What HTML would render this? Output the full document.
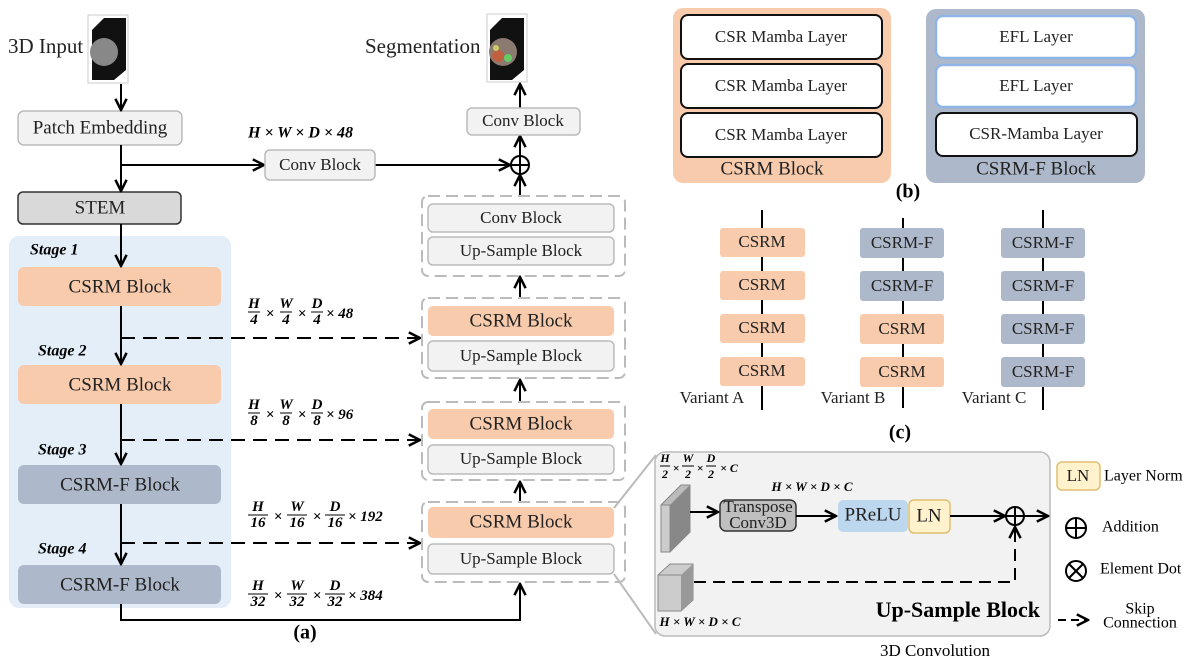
<!DOCTYPE html>
<html><head><meta charset="utf-8"><style>
html,body{margin:0;padding:0;background:#fff}
svg{display:block}
text{font-family:"Liberation Serif",serif}
.t{font-size:19px;text-anchor:middle;dominant-baseline:middle;fill:#222}
.s{font-size:17px;text-anchor:middle;dominant-baseline:middle;fill:#222}
.c{font-size:17px;text-anchor:middle;dominant-baseline:middle;fill:#222}
.bi{font-weight:bold;font-style:italic}
.b{font-weight:bold}
</style></head><body>
<svg width="1192" height="666" viewBox="0 0 1192 666" xmlns="http://www.w3.org/2000/svg">
<defs>
<marker id="a" viewBox="0 0 10 10" refX="9" refY="5" markerWidth="7" markerHeight="7" orient="auto-start-reverse"><path d="M1,1 L9,5 L1,9" fill="none" stroke="#000" stroke-width="1.8"/></marker>
</defs>
<rect x="9" y="236" width="222" height="372" rx="10" fill="#e3eef9"/>
<text x="8" y="48" font-size="21" dominant-baseline="middle" fill="#222">3D Input</text>
<rect x="88" y="15" width="40" height="68" fill="#fff" stroke="#ccc"/>
<polygon points="92,30 104,18 126,18 126,70 114,80 92,80" fill="#111"/>
<circle cx="104" cy="52" r="14" fill="#888"/>
<text x="365" y="48" font-size="21" dominant-baseline="middle" fill="#222">Segmentation</text>
<rect x="487" y="14" width="40" height="68" fill="#fff" stroke="#ccc"/>
<polygon points="490,30 502,18 524,18 524,70 512,80 490,80" fill="#111"/>
<circle cx="503" cy="52" r="14" fill="#8a7a70"/>
<circle cx="498" cy="56" r="6" fill="#c06040"/><circle cx="508" cy="58" r="4" fill="#6c6"/><circle cx="496" cy="48" r="3" fill="#cc6"/>
<rect x="18" y="111" width="164" height="34" rx="6" fill="#f2f2f2" stroke="#bbb" stroke-width="1.5"/>
<text class="t" x="100" y="129">Patch Embedding</text>
<rect x="18" y="192" width="163" height="32" rx="5" fill="#d9d9d9" stroke="#333" stroke-width="1.5"/>
<text class="t" x="100" y="209">STEM</text>
<text x="30" y="251" font-size="16" class="bi" dominant-baseline="middle">Stage 1</text>
<rect x="18" y="267" width="203" height="39" rx="6" fill="#f8cbad"/>
<text class="t" x="120" y="288" font-size="20">CSRM Block</text>
<text x="38" y="352" font-size="16" class="bi" dominant-baseline="middle">Stage 2</text>
<rect x="18" y="365" width="203" height="39" rx="6" fill="#f8cbad"/>
<text class="t" x="120" y="386" font-size="20">CSRM Block</text>
<text x="38" y="451" font-size="16" class="bi" dominant-baseline="middle">Stage 3</text>
<rect x="18" y="465" width="203" height="39" rx="6" fill="#adb9ca"/>
<text class="t" x="120" y="486" font-size="20">CSRM-F Block</text>
<text x="38" y="550" font-size="16" class="bi" dominant-baseline="middle">Stage 4</text>
<rect x="18" y="565" width="203" height="39" rx="6" fill="#adb9ca"/>
<text class="t" x="120" y="586" font-size="20">CSRM-F Block</text>
<g stroke="#000" stroke-width="2" fill="none">
<line x1="121" y1="84" x2="121" y2="110" marker-end="url(#a)"/>
<line x1="121" y1="145" x2="121" y2="191" marker-end="url(#a)"/>
<line x1="121" y1="165" x2="264" y2="165" marker-end="url(#a)"/>
<line x1="375" y1="165" x2="510" y2="165" marker-end="url(#a)"/>
<line x1="121" y1="224" x2="121" y2="266" marker-end="url(#a)"/>
<line x1="121" y1="306" x2="121" y2="364" marker-end="url(#a)"/>
<line x1="121" y1="404" x2="121" y2="464" marker-end="url(#a)"/>
<line x1="121" y1="504" x2="121" y2="564" marker-end="url(#a)"/>
<polyline points="121,604 121,620 520,620 520,584" marker-end="url(#a)"/>
<line x1="520" y1="156" x2="520" y2="136" marker-end="url(#a)"/>
<line x1="520" y1="108" x2="520" y2="84" marker-end="url(#a)"/>
<line x1="520" y1="196" x2="520" y2="175" marker-end="url(#a)"/>
<line x1="520" y1="298" x2="520" y2="277" marker-end="url(#a)"/>
<line x1="520" y1="402" x2="520" y2="380" marker-end="url(#a)"/>
<line x1="520" y1="502" x2="520" y2="482" marker-end="url(#a)"/>
<g stroke-dasharray="14,8">
<line x1="121" y1="338" x2="420" y2="338" marker-end="url(#a)"/>
<line x1="121" y1="440" x2="420" y2="440" marker-end="url(#a)"/>
<line x1="121" y1="543" x2="420" y2="543" marker-end="url(#a)"/>
</g>
<circle cx="520" cy="165" r="9"/><line x1="511" y1="165" x2="529" y2="165"/><line x1="520" y1="156" x2="520" y2="174"/>
</g>
<rect x="265" y="150" width="110" height="30" rx="5" fill="#f2f2f2" stroke="#bbb" stroke-width="1.5"/>
<text class="s" x="320" y="166">Conv Block</text>
<rect x="467" y="108" width="113" height="27" rx="5" fill="#f2f2f2" stroke="#bbb" stroke-width="1.5"/>
<text class="s" x="523" y="122">Conv Block</text>
<text x="248" y="134" font-size="16" class="bi" dominant-baseline="middle">H × W × D × 48</text>
<g fill="none" stroke="#bbb" stroke-width="2" stroke-dasharray="12,6">
<rect x="422" y="196" width="203" height="80" rx="6"/>
<rect x="422" y="298" width="203" height="80" rx="6"/>
<rect x="422" y="402" width="203" height="78" rx="6"/>
<rect x="422" y="502" width="203" height="80" rx="6"/>
</g>
<g stroke="#bbb" stroke-width="1.5">
<rect x="428" y="204" width="186" height="28" rx="5" fill="#f2f2f2"/>
<rect x="428" y="237" width="186" height="28" rx="5" fill="#f2f2f2"/>
<rect x="428" y="306" width="186" height="30" rx="5" fill="#f8cbad" stroke="none"/>
<rect x="428" y="341" width="186" height="30" rx="5" fill="#f2f2f2"/>
<rect x="428" y="409" width="186" height="30" rx="5" fill="#f8cbad" stroke="none"/>
<rect x="428" y="445" width="186" height="29" rx="5" fill="#f2f2f2"/>
<rect x="428" y="507" width="186" height="31" rx="5" fill="#f8cbad" stroke="none"/>
<rect x="428" y="544" width="186" height="30" rx="5" fill="#f2f2f2"/>
</g>
<text class="s" x="521" y="219">Conv Block</text>
<text class="s" x="521" y="252">Up-Sample Block</text>
<text class="t" x="521" y="322" font-size="20">CSRM Block</text>
<text class="s" x="521" y="357">Up-Sample Block</text>
<text class="t" x="521" y="425" font-size="20">CSRM Block</text>
<text class="s" x="521" y="460">Up-Sample Block</text>
<text class="t" x="521" y="523" font-size="20">CSRM Block</text>
<text class="s" x="521" y="560">Up-Sample Block</text>
<g font-size="15" class="bi">
<g transform="translate(248,296)" text-anchor="middle"><text x="6" y="12">H</text><text x="6" y="28">4</text><line x1="0" y1="16" x2="12" y2="16" stroke="#000"/><text x="22" y="22">×</text>
<text x="38" y="12">W</text><text x="38" y="28">4</text><line x1="32" y1="16" x2="44" y2="16" stroke="#000"/><text x="54" y="22">×</text>
<text x="69" y="12">D</text><text x="69" y="28">4</text><line x1="63" y1="16" x2="75" y2="16" stroke="#000"/><text x="78" y="22" text-anchor="start">× 48</text></g>
<g transform="translate(248,397)" text-anchor="middle"><text x="6" y="12">H</text><text x="6" y="28">8</text><line x1="0" y1="16" x2="12" y2="16" stroke="#000"/><text x="22" y="22">×</text>
<text x="38" y="12">W</text><text x="38" y="28">8</text><line x1="32" y1="16" x2="44" y2="16" stroke="#000"/><text x="54" y="22">×</text>
<text x="69" y="12">D</text><text x="69" y="28">8</text><line x1="63" y1="16" x2="75" y2="16" stroke="#000"/><text x="78" y="22" text-anchor="start">× 96</text></g>
<g transform="translate(248,499)" text-anchor="middle"><text x="10" y="12">H</text><text x="10" y="28">16</text><line x1="0" y1="16" x2="20" y2="16" stroke="#000"/><text x="30" y="22">×</text>
<text x="49" y="12">W</text><text x="49" y="28">16</text><line x1="39" y1="16" x2="59" y2="16" stroke="#000"/><text x="69" y="22">×</text>
<text x="87" y="12">D</text><text x="87" y="28">16</text><line x1="77" y1="16" x2="97" y2="16" stroke="#000"/><text x="100" y="22" text-anchor="start">× 192</text></g>
<g transform="translate(248,578)" text-anchor="middle"><text x="10" y="12">H</text><text x="10" y="28">32</text><line x1="0" y1="16" x2="20" y2="16" stroke="#000"/><text x="30" y="22">×</text>
<text x="49" y="12">W</text><text x="49" y="28">32</text><line x1="39" y1="16" x2="59" y2="16" stroke="#000"/><text x="69" y="22">×</text>
<text x="87" y="12">D</text><text x="87" y="28">32</text><line x1="77" y1="16" x2="97" y2="16" stroke="#000"/><text x="100" y="22" text-anchor="start">× 384</text></g>
</g>
<text x="305" y="634" font-size="20" class="b" text-anchor="middle" dominant-baseline="middle">(a)</text>
<rect x="673" y="8" width="218" height="175" rx="10" fill="#f8cbad"/>
<g fill="#fff" stroke="#111" stroke-width="2">
<rect x="681" y="15" width="201" height="44" rx="7"/><rect x="681" y="64" width="201" height="44" rx="7"/><rect x="681" y="113" width="201" height="44" rx="7"/>
</g>
<text class="c" x="781" y="38">CSR Mamba Layer</text><text class="c" x="781" y="87">CSR Mamba Layer</text><text class="c" x="781" y="136">CSR Mamba Layer</text>
<text class="t" x="772" y="170" font-size="20">CSRM Block</text>
<rect x="926" y="9" width="219" height="174" rx="10" fill="#adb9ca"/>
<g fill="#fff" stroke-width="2.5">
<rect x="936" y="16" width="200" height="42" rx="7" stroke="#8fb4e8"/><rect x="936" y="65" width="200" height="42" rx="7" stroke="#8fb4e8"/><rect x="936" y="113" width="201" height="43" rx="7" stroke="#111" stroke-width="2"/>
</g>
<text class="c" x="1036" y="38">EFL Layer</text><text class="c" x="1036" y="87">EFL Layer</text><text class="c" x="1036" y="135">CSR-Mamba Layer</text>
<text class="t" x="1036" y="170" font-size="20">CSRM-F Block</text>
<text x="908" y="193" font-size="20" class="b" text-anchor="middle" dominant-baseline="middle">(b)</text>
<g stroke="#000" stroke-width="2"><line x1="762" y1="210" x2="762" y2="410"/><line x1="903" y1="218" x2="903" y2="408"/><line x1="1043" y1="210" x2="1043" y2="410"/></g>
<g>
<rect x="720" y="228" width="85" height="29" rx="3" fill="#f8cbad"/><rect x="720" y="271" width="85" height="29" rx="3" fill="#f8cbad"/><rect x="720" y="314" width="85" height="29" rx="3" fill="#f8cbad"/><rect x="720" y="357" width="85" height="29" rx="3" fill="#f8cbad"/>
<rect x="860" y="228" width="84" height="30" rx="3" fill="#adb9ca"/><rect x="860" y="271" width="84" height="30" rx="3" fill="#adb9ca"/><rect x="860" y="314" width="84" height="30" rx="3" fill="#f8cbad"/><rect x="860" y="357" width="84" height="30" rx="3" fill="#f8cbad"/>
<rect x="1001" y="228" width="84" height="30" rx="3" fill="#adb9ca"/><rect x="1001" y="271" width="84" height="30" rx="3" fill="#adb9ca"/><rect x="1001" y="314" width="84" height="30" rx="3" fill="#adb9ca"/><rect x="1001" y="357" width="84" height="30" rx="3" fill="#adb9ca"/>
</g>
<text class="c" x="762" y="243">CSRM</text><text class="c" x="762" y="286">CSRM</text><text class="c" x="762" y="329">CSRM</text><text class="c" x="762" y="372">CSRM</text>
<text class="c" x="902" y="244">CSRM-F</text><text class="c" x="902" y="287">CSRM-F</text><text class="c" x="902" y="330">CSRM</text><text class="c" x="902" y="373">CSRM</text>
<text class="c" x="1043" y="244">CSRM-F</text><text class="c" x="1043" y="287">CSRM-F</text><text class="c" x="1043" y="330">CSRM-F</text><text class="c" x="1043" y="373">CSRM-F</text>
<text class="c" x="712" y="399">Variant A</text><text class="c" x="853" y="399">Variant B</text><text class="c" x="994" y="399">Variant C</text>
<text x="900" y="434" font-size="20" class="b" text-anchor="middle" dominant-baseline="middle">(c)</text>
<g stroke="#bbb" stroke-width="2"><line x1="614" y1="508" x2="656" y2="455"/><line x1="614" y1="574" x2="656" y2="634"/></g>
<rect x="655" y="452" width="395" height="184" rx="10" fill="#f2f2f2" stroke="#bbb" stroke-width="1.5"/>
<g font-size="12" class="bi" text-anchor="middle">
<text x="665" y="462">H</text><text x="665" y="478">2</text><line x1="660" y1="466" x2="670" y2="466" stroke="#000"/><text x="676" y="472">×</text>
<text x="688" y="462">W</text><text x="688" y="478">2</text><line x1="682" y1="466" x2="694" y2="466" stroke="#000"/><text x="700" y="472">×</text>
<text x="711" y="462">D</text><text x="711" y="478">2</text><line x1="706" y1="466" x2="716" y2="466" stroke="#000"/><text x="729" y="472">× C</text>
</g>
<text x="812" y="491" font-size="13" class="bi" text-anchor="middle">H × W × D × C</text>
<text x="700" y="626" font-size="13" class="bi" text-anchor="middle">H × W × D × C</text>
<polygon points="661,505 681,485 690,485 690,532 670,552 661,552" fill="#bbb" stroke="#888"/>
<polygon points="670,505 690,485 690,532 670,552" fill="#888"/>
<rect x="661" y="505" width="9" height="47" fill="#ccc" stroke="#888"/>
<polygon points="658,575 670,564 693,564 693,600 681,611 658,611" fill="#ccc" stroke="#888"/>
<polygon points="681,575 693,564 693,600 681,611" fill="#999"/>
<line x1="658" y1="575" x2="681" y2="575" stroke="#888"/>
<rect x="720" y="500" width="76" height="31" rx="6" fill="#bfbfbf" stroke="#333" stroke-width="1.5"/>
<text class="s" x="758" y="508" font-size="15">Transpose</text><text class="s" x="758" y="524" font-size="15">Conv3D</text>
<rect x="838" y="500" width="70" height="32" rx="5" fill="#bdd7ee"/>
<text class="t" x="873" y="516">PReLU</text>
<rect x="909" y="500" width="41" height="33" rx="5" fill="#fff2cc" stroke="#e0c070" stroke-width="1.5"/>
<text class="t" x="929" y="517">LN</text>
<g stroke="#000" stroke-width="2" fill="none">
<line x1="690" y1="512" x2="718" y2="512" marker-end="url(#a)"/>
<line x1="796" y1="516" x2="836" y2="516" marker-end="url(#a)"/>
<line x1="950" y1="516" x2="1005" y2="516" marker-end="url(#a)"/>
<circle cx="1015" cy="516" r="9"/><line x1="1006" y1="516" x2="1024" y2="516"/><line x1="1015" y1="507" x2="1015" y2="525"/>
<line x1="1024" y1="516" x2="1048" y2="516" marker-end="url(#a)"/>
<polyline points="694,582 1015,582 1015,527" stroke-dasharray="12,7" marker-end="url(#a)"/>
</g>
<text x="1040" y="612" font-size="22" class="b" text-anchor="end" dominant-baseline="middle">Up-Sample Block</text>
<text x="935" y="652" font-size="17" text-anchor="middle" dominant-baseline="middle">3D Convolution</text>
<rect x="1057" y="462" width="43" height="28" rx="5" fill="#fff2cc" stroke="#e0c070" stroke-width="1.5"/>
<text class="s" x="1078" y="477">LN</text>
<text x="1104" y="477" font-size="16" dominant-baseline="middle">Layer Norm</text>
<g stroke="#000" stroke-width="2" fill="none">
<circle cx="1076" cy="528" r="10"/><line x1="1066" y1="528" x2="1086" y2="528"/><line x1="1076" y1="518" x2="1076" y2="538"/>
<circle cx="1076" cy="571" r="10"/><line x1="1069" y1="564" x2="1083" y2="578"/><line x1="1083" y1="564" x2="1069" y2="578"/>
<line x1="1058" y1="620" x2="1088" y2="620" stroke-dasharray="8,5" marker-end="url(#a)"/>
</g>
<text x="1102" y="528" font-size="16" dominant-baseline="middle">Addition</text>
<text x="1100" y="570" font-size="16" dominant-baseline="middle">Element Dot</text>
<text x="1140" y="610" font-size="16" text-anchor="middle" dominant-baseline="middle">Skip</text>
<text x="1140" y="624" font-size="16" text-anchor="middle" dominant-baseline="middle">Connection</text>
</svg>
</body></html>
